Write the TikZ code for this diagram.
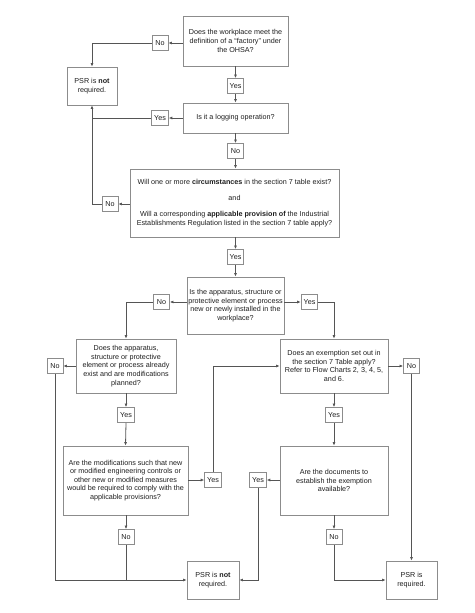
\documentclass[tikz,border=0pt]{standalone}
\usepackage{fontspec}
\setmainfont{Liberation Sans}
\usetikzlibrary{arrows.meta}
\definecolor{boxline}{HTML}{8C8C8C}
\definecolor{conn}{HTML}{555555}
\definecolor{txt}{HTML}{1E1E1E}
\begin{document}
\begin{tikzpicture}[x=1pt,y=-1pt,
  every node/.style={font=\fontsize{7.2}{8.6}\selectfont, text=txt},
  qbox/.style={draw=boxline, line width=0.8pt, align=center, inner sep=1pt},
  lbl/.style={draw=boxline, line width=0.8pt, inner xsep=2.5pt, inner ysep=1pt, minimum width=16pt, minimum height=15pt},
  arr/.style={draw=conn, line width=0.8pt, -{Latex[length=3.5pt,width=3pt]}},
  ln/.style={draw=conn, line width=0.8pt}]
\useasboundingbox (0,0) rectangle (474,613);
% boxes
\node[qbox, minimum width=105pt, minimum height=50pt] (b1) at (235.5,41) {Does the workplace meet the\\definition of a ``factory'' under\\the OHSA?};
\node[qbox, minimum width=50pt, minimum height=38pt] (psr1) at (92,86) {PSR is \textbf{not}\\required.};
\node[qbox, minimum width=105pt, minimum height=30pt] (b2) at (235.5,118) {Is it a logging operation?};
\node[qbox, minimum width=209pt, minimum height=68pt] (b3) at (234.5,203) {Will one or more \textbf{circumstances} in the section 7 table exist?\\[7.4pt]and\\[7.4pt]Will a corresponding \textbf{applicable provision of} the Industrial\\Establishments Regulation listed in the section 7 table apply?};
\node[qbox, minimum width=97pt, minimum height=57pt] (b4) at (235.5,305.5) {Is the apparatus, structure or\\protective element or process\\new or newly installed in the\\workplace?};
\node[qbox, minimum width=100pt, minimum height=54pt] (b5) at (126,366) {Does the apparatus,\\structure or protective\\element or process already\\exist and are modifications\\planned?};
\node[qbox, minimum width=125pt, minimum height=69pt] (b7) at (125.5,480.5) {Are the modifications such that new\\or modified engineering controls or\\other new or modified measures\\would be required to comply with the\\applicable provisions?};
\node[qbox, minimum width=52pt, minimum height=38pt] (psr2) at (213,580) {PSR is \textbf{not}\\required.};
\node[qbox, minimum width=108pt, minimum height=54pt] (b6) at (334,366) {Does an exemption set out in\\the section 7 Table apply?\\Refer to Flow Charts 2, 3, 4, 5,\\and 6.};
\node[qbox, minimum width=108pt, minimum height=69pt] (b8) at (334,480.5) {Are the documents to\\establish the exemption\\available?};
\node[qbox, minimum width=51pt, minimum height=38pt] (psr3) at (411.5,580) {PSR is\\required.};
% labels
\node[lbl] (no1) at (160,43) {No};
\node[lbl] (y1) at (235.5,86) {Yes};
\node[lbl] (yes2) at (160,118) {Yes};
\node[lbl] (no2) at (235.5,151) {No};
\node[lbl] (no3) at (110,204) {No};
\node[lbl] (yes3) at (235.5,257) {Yes};
\node[lbl] (no4) at (161.5,302) {No};
\node[lbl] (yes4) at (309.5,302) {Yes};
\node[lbl] (no5) at (55,366) {No};
\node[lbl] (yes5) at (126,415) {Yes};
\node[lbl] (yes7) at (213,480) {Yes};
\node[lbl] (no7) at (126,537) {No};
\node[lbl] (no6) at (411.5,366) {No};
\node[lbl] (yes6) at (334,415) {Yes};
\node[lbl] (yes8) at (258,480) {Yes};
\node[lbl] (no8) at (334,537) {No};
\coordinate (j1) at (no7 |- psr2);
% connectors
\draw[arr] (b1.west |- no1) -- (no1.east);
\draw[arr] (no1.west) -| (psr1.north);
\draw[arr] (b1.south -| y1) -- (y1.north);
\draw[arr] (y1.south) -- (b2.north -| y1);
\draw[arr] (b2.west) -- (yes2.east);
\draw[ln] (yes2.west) -- (yes2.west -| psr1);
\draw[arr] (b2.south -| no2) -- (no2.north);
\draw[arr] (no2.south) -- (b3.north -| no2);
\draw[arr] (b3.west |- no3) -- (no3.east);
\draw[arr] (no3.west) -| (psr1.south);
\draw[arr] (b3.south -| yes3) -- (yes3.north);
\draw[arr] (yes3.south) -- (b4.north -| yes3);
\draw[arr] (b4.west |- no4) -- (no4.east);
\draw[arr] (no4.west) -| (b5.north);
\draw[arr] (b4.east |- yes4) -- (yes4.west);
\draw[arr] (yes4.east) -| (b6.north);
\draw[arr] (b5.west) -- (no5.east);
\draw[arr] (no5.south) |- (psr2.west);
\draw[arr] (b5.south) -- (yes5.north);
\draw[arr] (yes5.south) -- (b7.north);
\draw[arr] (b7.east |- yes7) -- (yes7.west);
\draw[arr] (yes7.north) |- (b6.west);
\draw[arr] (b7.south -| no7) -- (no7.north);
\draw[ln] (no7.south) -- (j1);
\draw[arr] (b6.east) -- (no6.west);
\draw[arr] (no6.south) -- (psr3.north);
\draw[arr] (b6.south) -- (yes6.north);
\draw[arr] (yes6.south) -- (b8.north);
\draw[arr] (b8.west |- yes8) -- (yes8.east);
\draw[arr] (yes8.south) |- (psr2.east);
\draw[arr] (b8.south) -- (no8.north);
\draw[arr] (no8.south) |- (psr3.west);
\end{tikzpicture}
\end{document}
